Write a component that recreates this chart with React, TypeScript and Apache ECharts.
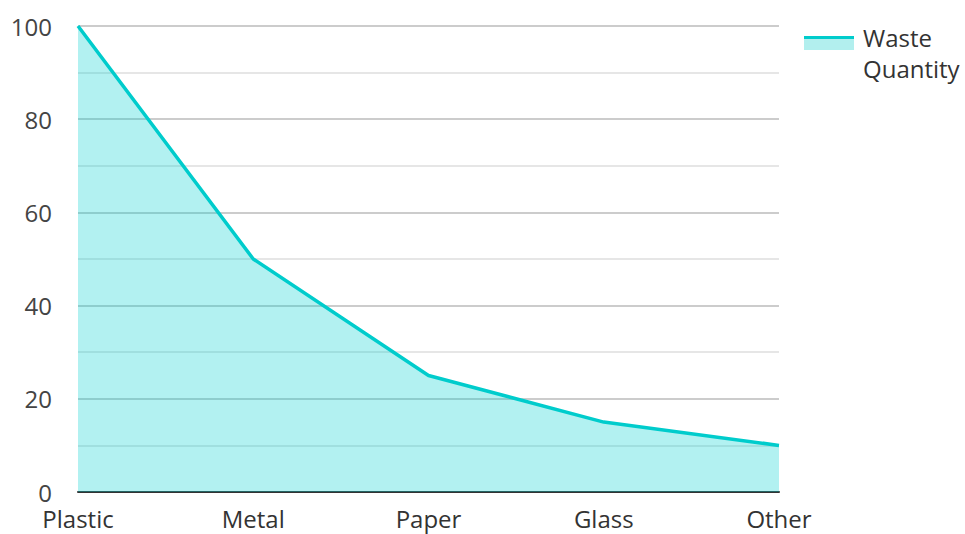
import React, { useEffect, useRef } from "react";
import * as echarts from "echarts";

const categories = ["Plastic", "Metal", "Paper", "Glass", "Other"];
const wasteQuantity = [100, 50, 25, 15, 10];
const seriesName = "Waste Quantity";

export default function App() {
  const ref = useRef<HTMLDivElement>(null);
  useEffect(() => {
    if (!ref.current) return;
    const chart = echarts.init(ref.current, undefined, { renderer: "svg" });
    const font = "'Open Sans', sans-serif";
    chart.setOption({
      animation: false,
      backgroundColor: "#ffffff",
      grid: { left: 78, right: 186, top: 26, bottom: 42, containLabel: false },
      xAxis: {
        type: "category",
        data: categories,
        boundaryGap: false,
        axisLine: { show: true, lineStyle: { color: "#333333", width: 2 } },
        axisTick: { show: false },
        axisLabel: { color: "#333333", fontFamily: font, fontSize: 24, margin: 13, lineHeight: 26 },
        splitLine: { show: false },
      },
      yAxis: {
        type: "value",
        min: 0,
        max: 100,
        interval: 10,
        axisLine: { show: false },
        axisTick: { show: false },
        axisLabel: {
          color: "#444444",
          fontFamily: font,
          fontSize: 24,
          margin: 26,
          formatter: (v: number) => (v % 20 === 0 ? String(v) : ""),
        },
        splitLine: { show: true, lineStyle: { color: ["#cccccc", "#e6e6e6"], width: 2 } },
      },
      series: [
        {
          name: seriesName,
          type: "line",
          data: wasteQuantity,
          symbol: "none",
          lineStyle: { color: "#00cccc", width: 3.5 },
          itemStyle: { color: "#00cccc" },
          areaStyle: { color: "#00cfcf", opacity: 0.3 },
        },
      ],
      graphic: [
        {
          type: "group",
          left: 804,
          top: 22,
          children: [
            { type: "rect", shape: { x: 0, y: 15, width: 50, height: 13 }, style: { fill: "#b2efee" } },
            { type: "rect", shape: { x: 0, y: 14, width: 50, height: 3 }, style: { fill: "#00cccc" } },
            {
              type: "text",
              x: 59,
              y: 0,
              style: {
                text: "Waste\nQuantity",
                font: "24px 'Open Sans', sans-serif",
                lineHeight: 31,
                fill: "#333333",
              },
            },
          ],
        },
      ],
    });
    return () => chart.dispose();
  }, []);
  return (
    <div
      ref={ref}
      style={{ position: "fixed", left: 0, top: 0, width: 965, height: 534 }}
    />
  );
}
